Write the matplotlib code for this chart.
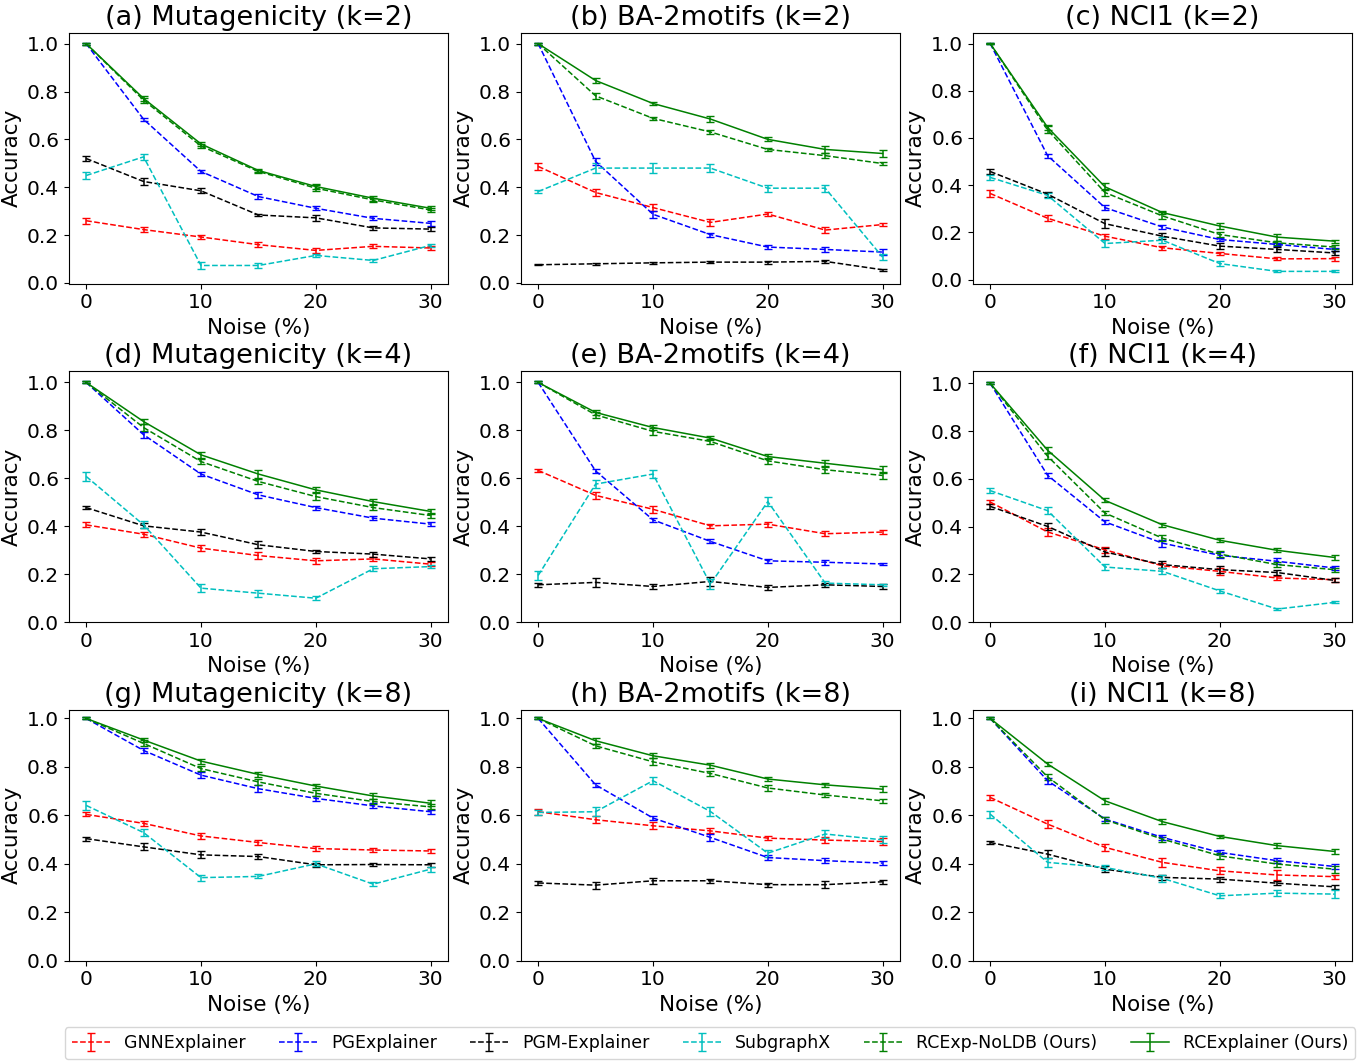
import matplotlib
matplotlib.use('Agg')
import matplotlib.pyplot as plt
import numpy as np

noise = [0, 5, 10, 15, 20, 25, 30]
methods = ['GNNExplainer', 'PGExplainer', 'PGM-Explainer', 'SubgraphX',
           'RCExp-NoLDB (Ours)', 'RCExplainer (Ours)']
colors = ['r', 'b', 'k', 'c', 'g', 'g']
styles = ['--', '--', '--', '--', '--', '-']

titles = ['(a) Mutagenicity (k=2)', '(b) BA-2motifs (k=2)', '(c) NCI1 (k=2)',
          '(d) Mutagenicity (k=4)', '(e) BA-2motifs (k=4)', '(f) NCI1 (k=4)',
          '(g) Mutagenicity (k=8)', '(h) BA-2motifs (k=8)', '(i) NCI1 (k=8)']

# order in each panel: GNNExplainer, PGExplainer, PGM-Explainer, SubgraphX, RCExp-NoLDB, RCExplainer
acc_a = [[0.26, 0.223, 0.192, 0.160, 0.136, 0.153, 0.146],
         [1.0, 0.684, 0.466, 0.361, 0.312, 0.270, 0.249],
         [0.520, 0.424, 0.385, 0.284, 0.272, 0.230, 0.225],
         [0.449, 0.527, 0.073, 0.073, 0.115, 0.094, 0.157],
         [1.0, 0.764, 0.572, 0.466, 0.396, 0.347, 0.305],
         [1.0, 0.771, 0.581, 0.470, 0.403, 0.354, 0.312]]
err_a = [[0.012, 0.012, 0.010, 0.010, 0.010, 0.008, 0.010],
         [0.004, 0.007, 0.008, 0.010, 0.008, 0.008, 0.010],
         [0.010, 0.015, 0.010, 0.006, 0.012, 0.008, 0.010],
         [0.015, 0.012, 0.015, 0.012, 0.006, 0.006, 0.006],
         [0.004, 0.010, 0.010, 0.008, 0.012, 0.008, 0.008],
         [0.004, 0.010, 0.010, 0.008, 0.012, 0.010, 0.008]]

acc_b = [[0.487, 0.378, 0.315, 0.253, 0.288, 0.221, 0.244],
         [1.0, 0.508, 0.287, 0.202, 0.150, 0.140, 0.129],
         [0.076, 0.080, 0.084, 0.087, 0.087, 0.090, 0.055],
         [0.382, 0.480, 0.480, 0.480, 0.396, 0.396, 0.108],
         [1.0, 0.782, 0.688, 0.631, 0.558, 0.532, 0.499],
         [1.0, 0.846, 0.750, 0.685, 0.600, 0.558, 0.541]]
err_b = [[0.015, 0.015, 0.015, 0.015, 0.010, 0.012, 0.008],
         [0.004, 0.015, 0.015, 0.008, 0.010, 0.010, 0.012],
         [0.003, 0.005, 0.005, 0.005, 0.006, 0.005, 0.005],
         [0.008, 0.020, 0.020, 0.015, 0.015, 0.015, 0.012],
         [0.004, 0.012, 0.006, 0.010, 0.008, 0.010, 0.006],
         [0.004, 0.012, 0.008, 0.012, 0.008, 0.015, 0.015]]

acc_c = [[0.365, 0.260, 0.184, 0.135, 0.111, 0.088, 0.089],
         [1.0, 0.525, 0.305, 0.223, 0.170, 0.149, 0.128],
         [0.458, 0.362, 0.237, 0.184, 0.142, 0.128, 0.113],
         [0.433, 0.357, 0.153, 0.167, 0.068, 0.035, 0.035],
         [1.0, 0.634, 0.369, 0.270, 0.191, 0.156, 0.138],
         [1.0, 0.645, 0.393, 0.284, 0.227, 0.180, 0.163]]
err_c = [[0.015, 0.012, 0.010, 0.008, 0.008, 0.006, 0.008],
         [0.004, 0.008, 0.012, 0.008, 0.008, 0.008, 0.008],
         [0.010, 0.010, 0.020, 0.012, 0.012, 0.010, 0.010],
         [0.012, 0.012, 0.015, 0.012, 0.012, 0.004, 0.004],
         [0.004, 0.015, 0.015, 0.015, 0.010, 0.008, 0.008],
         [0.004, 0.010, 0.015, 0.008, 0.012, 0.015, 0.006]]

acc_d = [[0.406, 0.367, 0.309, 0.278, 0.256, 0.264, 0.242],
         [1.0, 0.782, 0.618, 0.531, 0.478, 0.434, 0.409],
         [0.478, 0.402, 0.376, 0.323, 0.295, 0.284, 0.264],
         [0.608, 0.406, 0.142, 0.121, 0.100, 0.223, 0.232],
         [1.0, 0.812, 0.670, 0.587, 0.524, 0.478, 0.445],
         [1.0, 0.837, 0.698, 0.618, 0.552, 0.503, 0.462]]
err_d = [[0.010, 0.010, 0.012, 0.015, 0.012, 0.008, 0.008],
         [0.004, 0.012, 0.010, 0.012, 0.008, 0.008, 0.008],
         [0.006, 0.010, 0.012, 0.015, 0.008, 0.010, 0.010],
         [0.018, 0.015, 0.018, 0.015, 0.008, 0.010, 0.008],
         [0.004, 0.015, 0.010, 0.010, 0.015, 0.010, 0.012],
         [0.004, 0.010, 0.012, 0.015, 0.010, 0.010, 0.012]]

acc_e = [[0.633, 0.529, 0.471, 0.402, 0.409, 0.369, 0.376],
         [1.0, 0.631, 0.427, 0.337, 0.256, 0.250, 0.243],
         [0.156, 0.166, 0.149, 0.170, 0.145, 0.156, 0.149],
         [0.195, 0.576, 0.618, 0.159, 0.503, 0.163, 0.156],
         [1.0, 0.865, 0.796, 0.754, 0.673, 0.636, 0.612],
         [1.0, 0.875, 0.812, 0.768, 0.691, 0.663, 0.636]]
err_e = [[0.008, 0.015, 0.015, 0.008, 0.010, 0.010, 0.008],
         [0.004, 0.008, 0.008, 0.008, 0.008, 0.010, 0.006],
         [0.008, 0.020, 0.012, 0.020, 0.010, 0.008, 0.010],
         [0.018, 0.018, 0.018, 0.020, 0.018, 0.008, 0.004],
         [0.004, 0.012, 0.015, 0.012, 0.012, 0.015, 0.015],
         [0.004, 0.012, 0.010, 0.010, 0.010, 0.015, 0.015]]

acc_f = [[0.503, 0.378, 0.303, 0.236, 0.213, 0.185, 0.178],
         [1.0, 0.615, 0.420, 0.331, 0.280, 0.255, 0.227],
         [0.485, 0.401, 0.294, 0.241, 0.220, 0.208, 0.175],
         [0.551, 0.467, 0.231, 0.213, 0.131, 0.055, 0.083],
         [1.0, 0.695, 0.457, 0.352, 0.285, 0.241, 0.220],
         [1.0, 0.720, 0.510, 0.408, 0.343, 0.301, 0.271]]
err_f = [[0.010, 0.015, 0.012, 0.010, 0.015, 0.010, 0.008],
         [0.004, 0.010, 0.010, 0.015, 0.012, 0.012, 0.010],
         [0.012, 0.015, 0.015, 0.015, 0.015, 0.010, 0.008],
         [0.012, 0.015, 0.012, 0.012, 0.008, 0.004, 0.004],
         [0.004, 0.012, 0.010, 0.012, 0.012, 0.010, 0.008],
         [0.004, 0.012, 0.008, 0.008, 0.008, 0.008, 0.012]]

acc_g = [[0.604, 0.567, 0.515, 0.488, 0.463, 0.457, 0.453],
         [1.0, 0.868, 0.766, 0.710, 0.670, 0.639, 0.615],
         [0.504, 0.470, 0.437, 0.430, 0.396, 0.397, 0.396],
         [0.641, 0.529, 0.343, 0.348, 0.400, 0.316, 0.378],
         [1.0, 0.897, 0.793, 0.738, 0.691, 0.657, 0.635],
         [1.0, 0.911, 0.824, 0.769, 0.721, 0.680, 0.650]]
err_g = [[0.008, 0.010, 0.012, 0.010, 0.010, 0.010, 0.010],
         [0.004, 0.010, 0.012, 0.015, 0.010, 0.010, 0.008],
         [0.008, 0.015, 0.015, 0.010, 0.008, 0.008, 0.008],
         [0.020, 0.015, 0.012, 0.008, 0.010, 0.008, 0.010],
         [0.004, 0.012, 0.010, 0.012, 0.012, 0.012, 0.010],
         [0.004, 0.010, 0.010, 0.012, 0.010, 0.012, 0.012]]

acc_h = [[0.615, 0.582, 0.557, 0.536, 0.506, 0.498, 0.492],
         [1.0, 0.726, 0.589, 0.509, 0.426, 0.413, 0.403],
         [0.321, 0.312, 0.330, 0.330, 0.314, 0.314, 0.326],
         [0.612, 0.615, 0.743, 0.616, 0.444, 0.523, 0.499],
         [1.0, 0.887, 0.821, 0.773, 0.713, 0.684, 0.660],
         [1.0, 0.908, 0.846, 0.807, 0.750, 0.726, 0.708]]
err_h = [[0.012, 0.015, 0.015, 0.010, 0.008, 0.012, 0.015],
         [0.004, 0.008, 0.010, 0.015, 0.010, 0.010, 0.008],
         [0.008, 0.015, 0.012, 0.008, 0.008, 0.015, 0.008],
         [0.010, 0.018, 0.015, 0.018, 0.015, 0.015, 0.015],
         [0.004, 0.008, 0.015, 0.010, 0.012, 0.010, 0.008],
         [0.004, 0.012, 0.010, 0.010, 0.008, 0.008, 0.012]]

acc_i = [[0.674, 0.564, 0.468, 0.406, 0.371, 0.354, 0.347],
         [1.0, 0.743, 0.585, 0.509, 0.447, 0.413, 0.389],
         [0.488, 0.440, 0.378, 0.344, 0.337, 0.320, 0.305],
         [0.605, 0.406, 0.385, 0.340, 0.268, 0.279, 0.275],
         [1.0, 0.759, 0.582, 0.502, 0.433, 0.399, 0.378],
         [1.0, 0.812, 0.660, 0.574, 0.513, 0.475, 0.451]]
err_i = [[0.010, 0.015, 0.015, 0.020, 0.015, 0.020, 0.008],
         [0.004, 0.012, 0.010, 0.010, 0.008, 0.010, 0.010],
         [0.008, 0.015, 0.012, 0.010, 0.010, 0.008, 0.008],
         [0.015, 0.018, 0.012, 0.015, 0.010, 0.012, 0.015],
         [0.004, 0.012, 0.012, 0.010, 0.012, 0.012, 0.015],
         [0.004, 0.008, 0.012, 0.010, 0.008, 0.010, 0.012]]

all_acc = [acc_a, acc_b, acc_c, acc_d, acc_e, acc_f, acc_g, acc_h, acc_i]
all_err = [err_a, err_b, err_c, err_d, err_e, err_f, err_g, err_h, err_i]
ylims = [(-0.003, 1.045), (-0.003, 1.045), (-0.017, 1.045),
         (0.0, 1.046), (0.0, 1.046), (0.0, 1.05),
         (0.0, 1.035), (0.0, 1.035), (0.0, 1.035)]

fig, axes = plt.subplots(3, 3, figsize=(13.6, 10.61), dpi=100)
plt.subplots_adjust(left=0.0507, right=0.994, top=0.969, bottom=0.0945,
                    wspace=0.193, hspace=0.35)

handles = []
for k, ax in enumerate(axes.flat):
    for m in range(6):
        h = ax.errorbar(noise, all_acc[k][m], yerr=all_err[k][m], color=colors[m],
                        linestyle=styles[m], linewidth=1.1, elinewidth=1.1,
                        capsize=3, label=methods[m])
        if k == 0:
            handles.append(h)
    ax.set_title(titles[k], fontsize=19.5)
    ax.set_xlabel('Noise (%)', fontsize=15.5)
    ax.set_ylabel('Accuracy', fontsize=15.5)
    ax.set_xticks([0, 10, 20, 30])
    ax.set_yticks([0.0, 0.2, 0.4, 0.6, 0.8, 1.0])
    ax.set_ylim(*ylims[k])
    ax.tick_params(labelsize=14.5)

fig.legend(handles, methods, loc='lower left', ncol=6, mode='expand',
           bbox_to_anchor=(65 / 1360, 1 - 1059 / 1061, 1290 / 1360, 32 / 1061),
           fontsize=12.5, handlelength=2.2, borderaxespad=0.0)

plt.savefig('out.png')
